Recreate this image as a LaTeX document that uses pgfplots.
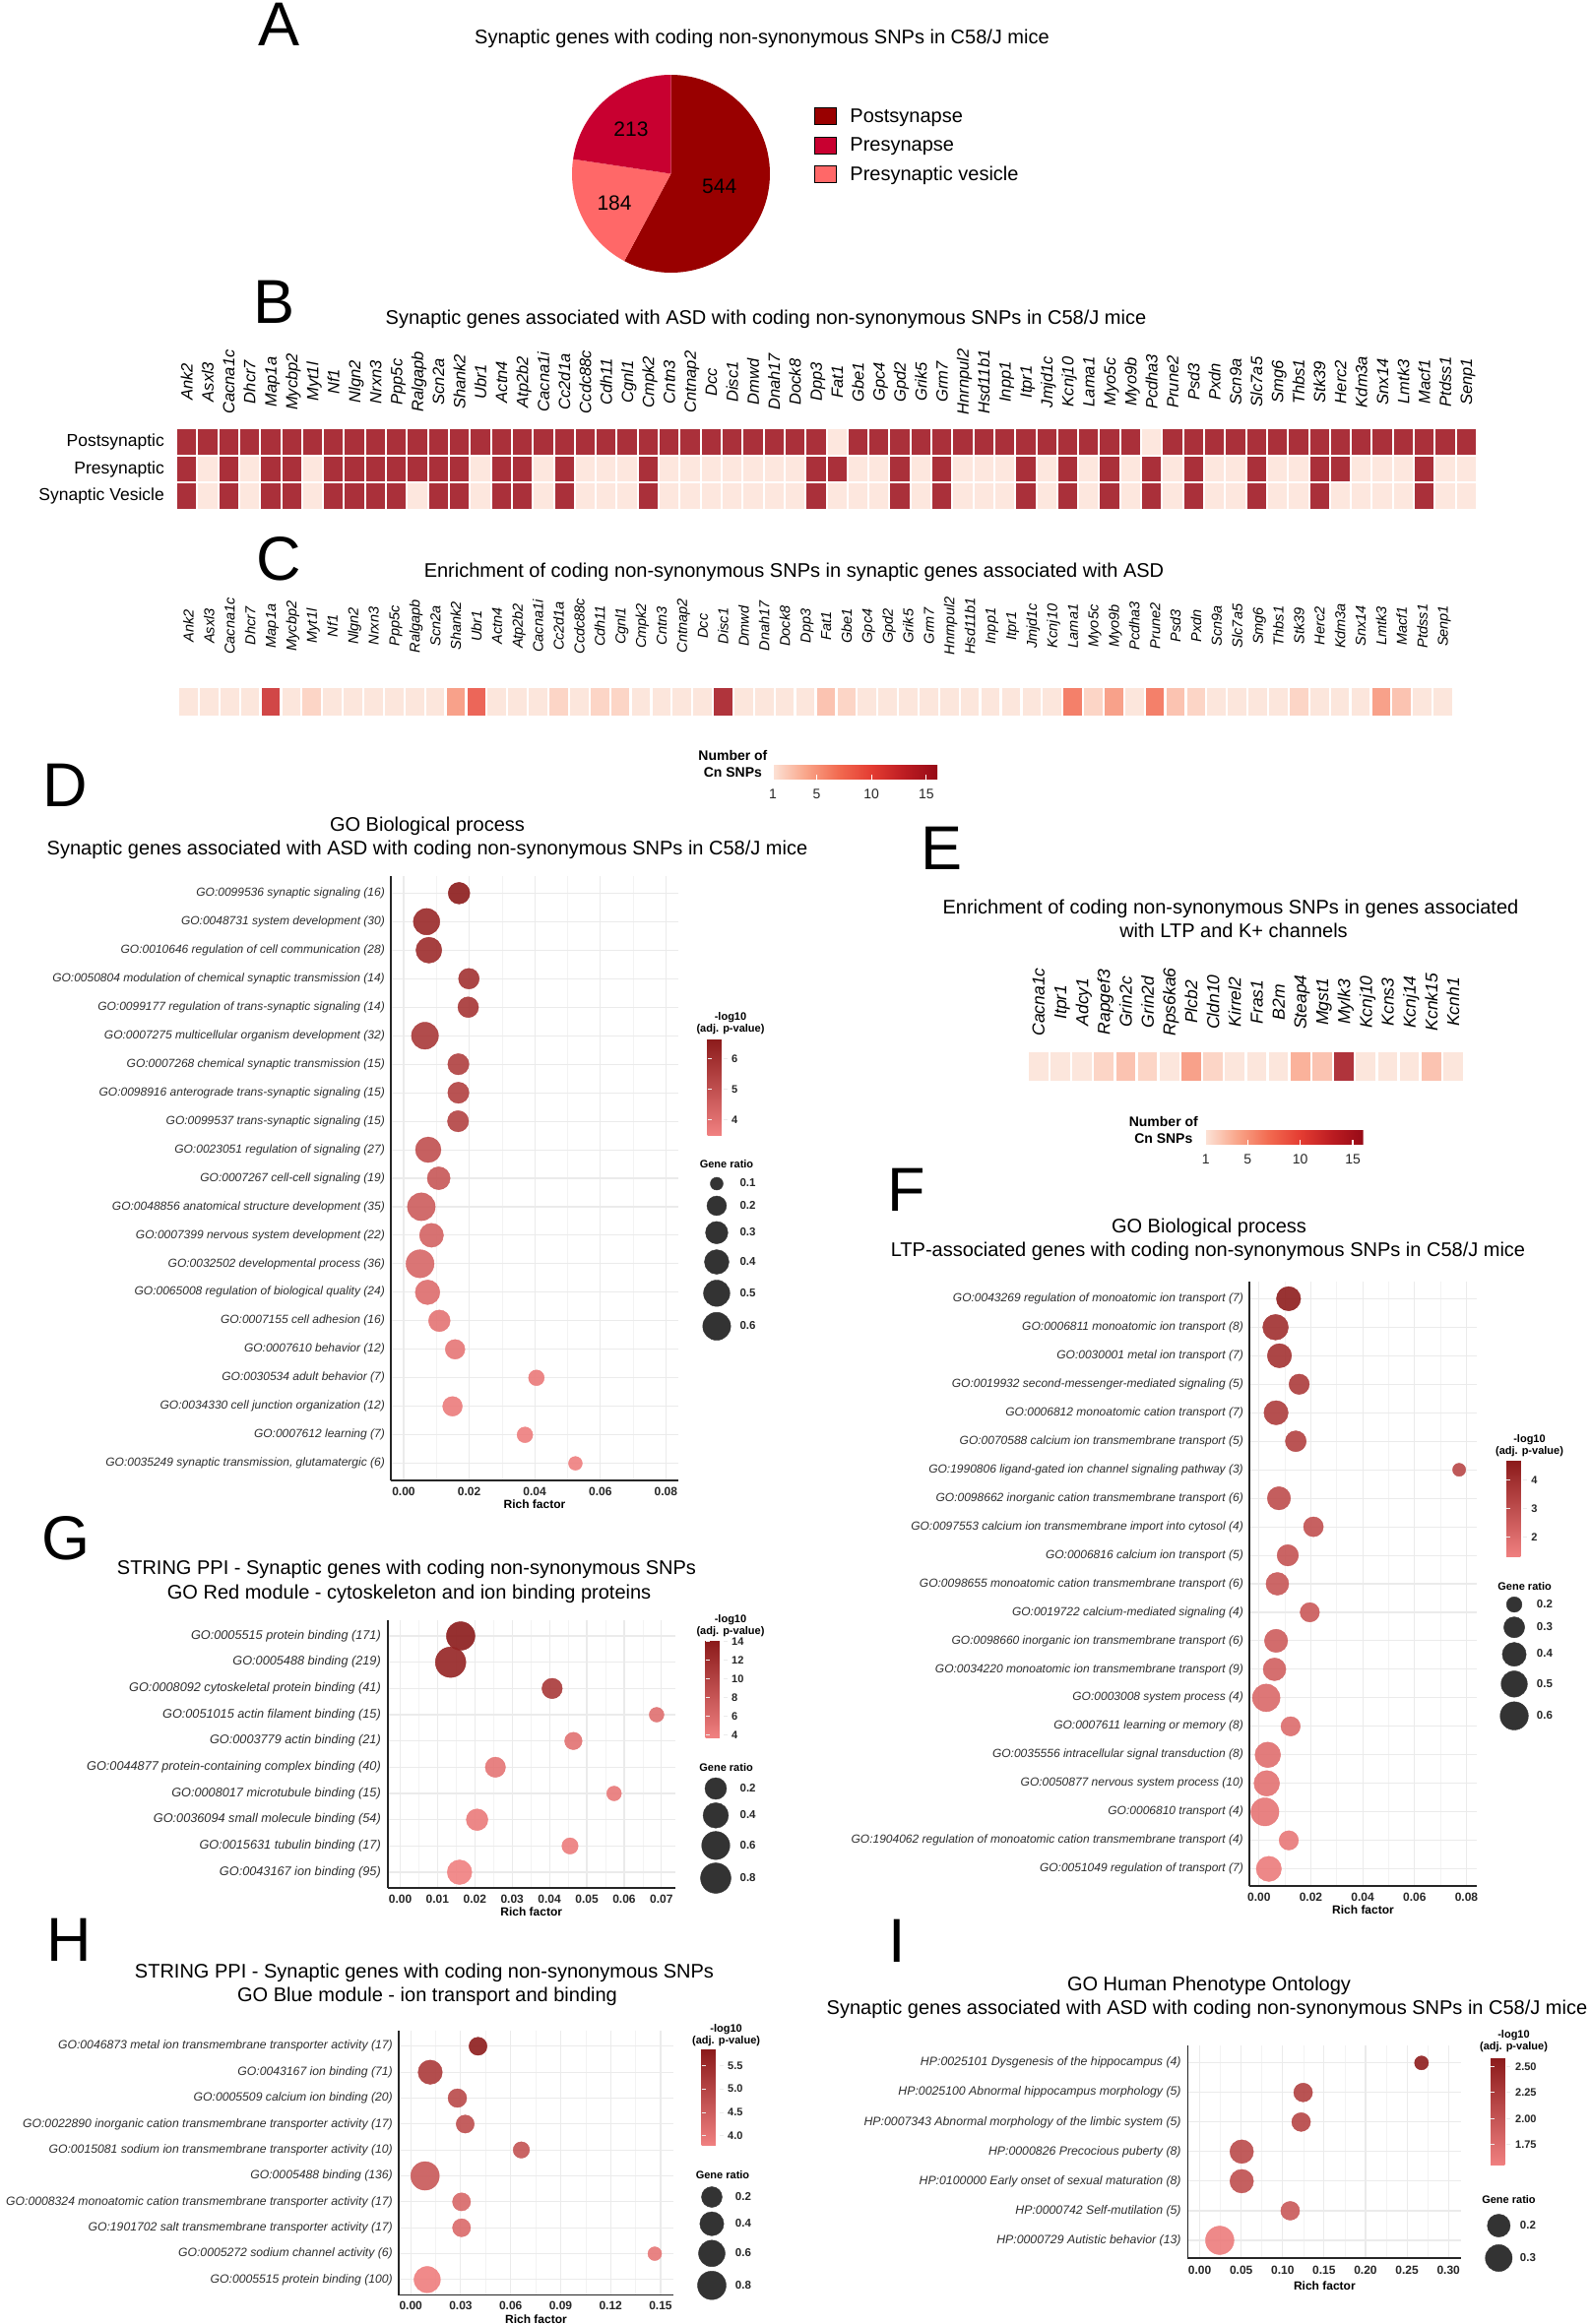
\documentclass[border=0pt]{standalone}
\usepackage{fontspec}
\setmainfont{Liberation Sans}
\usepackage{pgfplots}
\usepackage{pgfplotstable}
\pgfplotsset{compat=1.18}

\newcommand{\fs}[2]{\fontsize{#1}{#2}\selectfont}

\definecolor{postc}{RGB}{153,0,0}
\definecolor{prec}{RGB}{200,0,48}
\definecolor{vesc}{RGB}{255,104,104}
\definecolor{gridc}{RGB}{235,235,235}
\definecolor{labc}{RGB}{45,45,45}

\pgfplotsset{
  colormap={bin}{rgb255=(253,231,222) rgb255=(170,48,58)},
  colormap={reds}{rgb255=(252,226,214) rgb255=(249,165,137) rgb255=(242,106,80)
                  rgb255=(228,60,50) rgb255=(188,28,34) rgb255=(150,10,22)},
  colormap={lcfb}{rgb255=(240,128,128) rgb255=(139,26,26)},
}

% point diameter (pt) from gene ratio, one scale per panel
\pgfmathdeclarefunction{szD}{1}{\pgfmathparse{(13+15.5*sqrt(max(#1-0.1,0)/0.51))/2}}
\pgfmathdeclarefunction{szF}{1}{\pgfmathparse{(13.3+15.7*sqrt(max(#1-0.19,0)/0.43))/2}}
\pgfmathdeclarefunction{szG}{1}{\pgfmathparse{(15+16*sqrt(max(#1-0.056,0)/0.755))/2}}
\pgfmathdeclarefunction{szH}{1}{\pgfmathparse{(14+15*sqrt(max(#1-0.035,0)/0.765))/2}}
\pgfmathdeclarefunction{szI}{1}{\pgfmathparse{(14.2+14.7*sqrt(max(#1-0.108,0)/0.243))/2}}

% heatmap tiles
\pgfdeclareplotmark{cellB}{\pgfpathrectangle{\pgfpoint{-9.65pt}{-12.85pt}}{\pgfpoint{19.3pt}{25.7pt}}\pgfusepathqfill}
\pgfdeclareplotmark{cellC}{\pgfpathrectangle{\pgfpoint{-9.3pt}{-13.65pt}}{\pgfpoint{18.6pt}{27.3pt}}\pgfusepathqfill}
\pgfdeclareplotmark{cellE}{\pgfpathrectangle{\pgfpoint{-9.85pt}{-14.5pt}}{\pgfpoint{19.7pt}{29pt}}\pgfusepathqfill}

% B: membership of each gene (1 = yes)
\pgfplotstableread{
i post pre ves
0 1 1 1
1 1 0 0
2 1 1 1
3 1 0 0
4 1 1 1
5 1 1 1
6 1 0 0
7 1 1 1
8 1 1 1
9 1 1 1
10 1 1 1
11 1 1 0
12 1 1 1
13 1 1 1
14 1 0 0
15 1 1 1
16 1 1 1
17 1 0 0
18 1 1 1
19 1 0 0
20 1 0 0
21 1 0 0
22 1 1 1
23 1 0 0
24 1 0 0
25 1 0 0
26 1 0 0
27 1 0 0
28 1 0 0
29 1 0 0
30 1 1 1
31 0 1 0
32 1 0 0
33 1 0 0
34 1 1 1
35 1 0 0
36 1 1 1
37 1 0 0
38 1 0 0
39 1 0 0
40 1 1 1
41 1 0 0
42 1 1 1
43 1 0 0
44 1 1 1
45 1 0 0
46 0 1 1
47 1 0 0
48 1 1 1
49 1 0 0
50 1 0 0
51 1 1 1
52 1 0 0
53 1 0 0
54 1 1 1
55 1 1 0
56 1 0 0
57 1 0 0
58 1 0 0
59 1 1 1
60 1 0 0
61 1 0 0
}\tabB

% C: number of Cn SNPs per gene
\pgfplotstableread{
i n
0 1
1 1
2 1
3 1
4 12
5 1
6 2
7 1
8 1
9 1
10 1
11 1
12 1
13 5
14 9
15 1
16 1
17 1
18 2
19 1
20 2
21 2
22 1
23 1
24 1
25 1
26 15
27 1
28 1
29 1
30 1
31 3
32 2
33 1
34 1
35 1
36 1
37 1
38 1
39 1
40 1
41 1
42 1
43 7
44 2
45 5
46 1
47 7
48 3
49 2
50 1
51 1
52 1
53 1
54 2
55 1
56 1
57 1
58 5
59 3
60 1
61 1
}\tabC

% E: number of Cn SNPs, LTP and K+ channel genes
\pgfplotstableread{
i n
0 1
1 1
2 1
3 2
4 3
5 2
6 1
7 5
8 2
9 1
10 1
11 1
12 4
13 3
14 15
15 1
16 1
17 1
18 3
19 1
}\tabE

\pgfplotstableread{
y rf gr lp
21 0.0169 0.271 6.60
20 0.0070 0.508 6.20
19 0.0077 0.475 6.10
18 0.0199 0.237 5.90
17 0.0197 0.237 5.80
16 0.0065 0.542 5.70
15 0.0167 0.254 5.50
14 0.0167 0.254 5.45
13 0.0166 0.254 5.40
12 0.0075 0.458 5.00
11 0.0107 0.322 4.80
10 0.0054 0.593 4.60
9 0.0085 0.373 4.40
8 0.0050 0.610 4.30
7 0.0073 0.407 4.10
6 0.0109 0.271 3.90
5 0.0157 0.203 3.80
4 0.0405 0.119 3.70
3 0.0149 0.203 3.65
2 0.0370 0.119 3.60
1 0.0524 0.102 3.55
}\tabD

\pgfplotstableread{
y rf gr lp
21 0.0114 0.413 4.60
20 0.0064 0.471 4.00
19 0.0079 0.413 3.90
18 0.0155 0.285 3.60
17 0.0066 0.413 3.55
16 0.0142 0.299 3.40
15 0.0772 0.190 3.20
14 0.0077 0.375 3.00
13 0.0210 0.273 2.90
12 0.0111 0.313 2.80
11 0.0071 0.358 2.70
10 0.0196 0.261 2.60
9 0.0066 0.375 2.50
8 0.0060 0.358 2.40
7 0.0028 0.567 2.10
6 0.0122 0.261 2.00
5 0.0034 0.471 1.90
4 0.0030 0.471 1.80
3 0.0023 0.593 1.70
2 0.0115 0.261 1.60
1 0.0038 0.454 1.50
}\tabF

\pgfplotstableread{
y rf gr lp
10 0.0162 0.633 14.0
9 0.0135 0.811 13.0
8 0.0407 0.152 11.0
7 0.0687 0.056 5.5
6 0.0464 0.078 5.3
5 0.0255 0.148 5.0
4 0.0573 0.056 4.6
3 0.0206 0.200 4.4
2 0.0455 0.063 4.2
1 0.0159 0.352 3.9
}\tabG

\pgfplotstableread{
y rf gr lp
10 0.0404 0.100 5.80
9 0.0117 0.418 5.20
8 0.0280 0.118 4.90
7 0.0327 0.100 4.80
6 0.0664 0.059 4.70
5 0.0086 0.800 4.60
4 0.0305 0.100 4.30
3 0.0305 0.100 4.25
2 0.1465 0.035 4.00
1 0.0099 0.588 3.85
}\tabH

\pgfplotstableread{
y rf gr lp
7 0.2675 0.108 2.55
6 0.1247 0.135 2.20
5 0.1223 0.135 2.15
4 0.0506 0.216 2.10
3 0.0506 0.216 2.05
2 0.1091 0.135 1.95
1 0.0241 0.351 1.60
}\tabI

\pgfplotsset{
  asdgenes/.style={xtick={0,...,61},
    xticklabels={Ank2,Asxl3,Cacna1c,Dhcr7,Map1a,Mycbp2,Myt1l,Nf1,Nlgn2,Nrxn3,Ppp5c,Ralgapb,Scn2a,Shank2,Ubr1,Actn4,Atp2b2,Cacna1i,Cc2d1a,Ccdc88c,Cdh11,Cgnl1,Cmpk2,Cntn3,Cntnap2,Dcc,Disc1,Dmwd,Dnah17,Dock8,Dpp3,Fat1,Gbe1,Gpc4,Gpd2,Grik5,Grm7,Hnrnpul2,Hsd11b1,Inpp1,Itpr1,Jmjd1c,Kcnj10,Lama1,Myo5c,Myo9b,Pcdha3,Prune2,Psd3,Pxdn,Scn9a,Slc7a5,Smg6,Thbs1,Stk39,Herc2,Kdm3a,Snx14,Lmtk3,Macf1,Ptdss1,Senp1}},
  heat/.style={scale only axis, clip=false, axis line style={draw=none},
    tick style={draw=none}, major tick length=0pt,
    xticklabel pos=upper,
    xticklabel style={rotate=90, anchor=center, inner sep=0pt, text depth=0pt}},
  hcbar/.style={at={(parent axis.center)}, anchor=center, scale only axis,
    axis line style={draw=none}, xtick={1,5,10,15}, tick pos=both, tick align=inside,
    major tick length=5pt, tick style={white, line width=1.2pt}, xticklabel pos=lower,
    xticklabel style={font=\fs{14}{14}, text=black!85, anchor=center, yshift=-15pt,
      /pgf/number format/assume math mode=true}},
  vcbar/.style={at={(parent axis.center)}, anchor=center, scale only axis,
    axis line style={draw=none}, tick pos=both, yticklabel pos=right, tick align=inside,
    major tick length=4pt, tick style={white!92!black, line width=1pt}, scaled y ticks=false,
    yticklabel style={font=\bfseries\fs{11}{11}, text=black!85, anchor=west, inner sep=0pt,
      xshift=4.5pt, /pgf/number format/assume math mode=true}},
  dotplot/.style={scale only axis, clip=false,
    axis x line*=bottom, axis y line*=left,
    axis line style={black!85, line width=1.1pt},
    major tick length=0pt, minor tick length=0pt,
    xmajorgrids, xminorgrids, ymajorgrids,
    major grid style={gridc, line width=1.1pt},
    minor grid style={gridc!60!white, line width=0.6pt},
    scaled x ticks=false,
    xticklabel style={font=\bfseries\fs{12}{12}, text=black!85, anchor=center, yshift=-11pt,
      /pgf/number format/fixed, /pgf/number format/fixed zerofill,
      /pgf/number format/precision=2, /pgf/number format/assume math mode=true},
    yticklabel style={font=\itshape\fs{12}{12}, text=labc, anchor=east, inner sep=0pt, xshift=-6pt},
    xlabel={Rich factor},
    xlabel style={font=\bfseries\fs{12}{12}, at={(axis description cs:0.5,0)}, anchor=center, yshift=-24pt},
    colormap name=lcfb, colorbar,
    legend style={draw=none, fill=none, inner sep=0pt, outer sep=0pt, anchor=north west,
      font=\bfseries\fs{11.5}{12}, nodes={inner sep=0pt, text=black!85}},
    legend cell align=left,
    legend image code/.code={\draw[##1] plot coordinates {(0pt,0pt)};}},
  dots/.style={scatter, only marks, mark=*, point meta=explicit, opacity=0.9, forget plot,
    scatter/use mapped color={draw=mapped color, fill=mapped color},
    visualization depends on={\thisrow{gr} \as \grv},
    scatter/@pre marker code/.append style={/tikz/mark size={#1(\grv)}}},
  key/.style={only marks, mark=*, black!80, mark size={#1}},
}

\tikzset{
  ttl/.style={font=\fs{20}{20}, inner sep=0pt, anchor=base},
  cbt/.style={font=\bfseries\fs{11}{12}, inner sep=0pt, align=center, anchor=center},
  grt/.style={font=\bfseries\fs{11}{11}, inner sep=0pt, anchor=center},
}

\begin{document}
\begin{tikzpicture}
\useasboundingbox (0pt,0pt) rectangle (1615pt,-2361pt);

\foreach \L/\x/\y in {A/284/46, B/279/328, C/283/589, D/66/819, E/956/883, F/921/1230, G/67/1584, H/70/1992, I/911/1993}
  \node[anchor=base, inner sep=0pt, font=\fs{63}{63}] at ({\x*1pt},{-\y*1pt}) {\L};

% ---------------- A: pie
\node[ttl] at (774pt,-44.5pt) {Synaptic genes with coding non-synonymous SNPs in C58/J mice};
\pgfmathsetmacro{\tot}{544+213+184}
\pgfmathsetmacro{\aP}{90-544/\tot*360}
\pgfmathsetmacro{\aV}{\aP-184/\tot*360}
\begin{axis}[at={(681.5pt,-176.5pt)}, anchor=center, scale only axis, width=201pt, height=201pt,
  xmin=-1, xmax=1, ymin=-1, ymax=1, hide axis, clip=false,
  legend style={at={(axis description cs:1.2239,0.834)}, anchor=north west, draw=none, fill=none,
    inner sep=0pt, outer sep=0pt, row sep=12pt, column sep=14pt, font=\fs{20}{20}, nodes={inner sep=0pt}},
  legend cell align=left,
  legend image code/.code={\fill[#1] (0pt,-8.5pt) rectangle (22pt,8.5pt);}]
\addplot[fill=postc, draw=none, domain=\aP:90, samples=90, forget plot] ({cos(x)},{sin(x)}) -- (0,0) -- cycle;
\addplot[fill=vesc, draw=none, domain=\aV:\aP, samples=40, forget plot] ({cos(x)},{sin(x)}) -- (0,0) -- cycle;
\addplot[fill=prec, draw=none, domain=-270:\aV, samples=45, forget plot] ({cos(x)},{sin(x)}) -- (0,0) -- cycle;
\node[font=\fs{21}{21}] at (axis cs:0.49,-0.124) {544};
\node[font=\fs{21}{21}] at (axis cs:-0.403,0.453) {213};
\node[font=\fs{21}{21}] at (axis cs:-0.572,-0.294) {184};
\addlegendimage{fill=postc}\addlegendentry{Postsynapse}
\addlegendimage{fill=prec}\addlegendentry{Presynapse}
\addlegendimage{fill=vesc}\addlegendentry{Presynaptic vesicle}
\end{axis}

% ---------------- B: membership heatmap
\node[ttl] at (778pt,-329pt) {Synaptic genes associated with ASD with coding non-synonymous SNPs in C58/J mice};
\begin{axis}[heat, asdgenes, at={(839.5pt,-476.5pt)}, anchor=center, width=1321pt, height=83pt,
  xmin=-0.5, xmax=61.5, ymin=-0.5, ymax=2.5,
  xticklabel style={font=\itshape\fs{16.5}{16.5}, text height=11.8pt}, xticklabel shift=47pt,
  ytick={0,1,2}, yticklabels={Synaptic Vesicle,Presynaptic,Postsynaptic},
  yticklabel style={anchor=east, inner sep=0pt, xshift=-12pt, font=\fs{17.5}{18}},
  colormap name=bin, point meta min=0, point meta max=1]
\addplot[scatter, only marks, mark=cellB, point meta=explicit, scatter/use mapped color={fill=mapped color}]
  table[x=i, y expr=2, meta=post] {\tabB};
\addplot[scatter, only marks, mark=cellB, point meta=explicit, scatter/use mapped color={fill=mapped color}]
  table[x=i, y expr=1, meta=pre] {\tabB};
\addplot[scatter, only marks, mark=cellB, point meta=explicit, scatter/use mapped color={fill=mapped color}]
  table[x=i, y expr=0, meta=ves] {\tabB};
\end{axis}

% ---------------- C: SNP count heatmap
\node[ttl] at (806.5pt,-586pt) {Enrichment of coding non-synonymous SNPs in synaptic genes associated with ASD};
\begin{axis}[heat, asdgenes, at={(828.5pt,-713pt)}, anchor=center, width=1295pt, height=28pt,
  xmin=-0.5, xmax=61.5, ymin=-0.5, ymax=0.5, ytick=\empty,
  xticklabel style={font=\itshape\fs{14.5}{14.5}, text height=10.4pt}, xticklabel shift=63pt,
  colormap name=reds, point meta min=1, point meta max=16,
  colorbar horizontal,
  colorbar style={hcbar, xshift=40pt, yshift=-58pt, width=167pt, height=24pt}]
\addplot[scatter, only marks, mark=cellC, point meta=explicit, fill opacity=0.85,
  scatter/use mapped color={fill=mapped color}] table[x=i, y expr=0, meta=n] {\tabC};
\end{axis}
\node[anchor=east, align=center, font=\bfseries\fs{14}{17}, inner sep=0pt] at (779.6pt,-775.5pt) {Number of\\Cn SNPs};

% ---------------- E: LTP / K+ channel heatmap
\node[ttl] at (1250pt,-928pt) {Enrichment of coding non-synonymous SNPs  in genes associated};
\node[ttl] at (1253pt,-952pt) {with LTP and K+ channels};
\begin{axis}[heat, at={(1265.3pt,-1083pt)}, anchor=center, width=443.4pt, height=30pt,
  xmin=-0.5, xmax=19.5, ymin=-0.5, ymax=0.5, ytick=\empty,
  xtick={0,...,19},
  xticklabels={Cacna1c,Itpr1,Adcy1,Rapgef3,Grin2c,Grin2d,Rps6ka6,Plcb2,Cldn10,Kirrel2,Fras1,B2m,Steap4,Mgst1,Mylk3,Kcnj10,Kcns3,Kcnj14,Kcnk15,Kcnh1},
  xticklabel style={font=\itshape\fs{17.5}{17.5}, text height=12.5pt},
  xticklabel shift=50pt,
  colormap name=reds, point meta min=1, point meta max=16,
  colorbar horizontal,
  colorbar style={hcbar, xshift=39.4pt, yshift=-59pt, width=160pt, height=24pt}]
\addplot[scatter, only marks, mark=cellE, point meta=explicit, fill opacity=0.85,
  scatter/use mapped color={fill=mapped color}] table[x=i, y expr=0, meta=n] {\tabE};
\end{axis}
\node[anchor=east, align=center, font=\bfseries\fs{14}{17}, inner sep=0pt] at (1217pt,-1148pt) {Number of\\Cn SNPs};

% ---------------- D: GO biological process, ASD synaptic genes
\node[ttl] at (434pt,-844pt) {GO Biological process};
\node[ttl] at (434pt,-868pt) {Synaptic genes associated with ASD  with coding non-synonymous SNPs in C58/J mice};
\begin{axis}[dotplot, at={(543pt,-1197pt)}, anchor=center, width=292pt, height=614pt,
  xmin=-0.0039, xmax=0.0838, ymin=0.4, ymax=21.6,
  xtick={0,0.02,0.04,0.06,0.08}, minor xtick={0.01,0.03,0.05,0.07},
  ytick={1,...,21},
  yticklabels={{GO:0035249 synaptic transmission, glutamatergic (6)},
    {GO:0007612 learning (7)},
    {GO:0034330 cell junction organization (12)},
    {GO:0030534 adult behavior (7)},
    {GO:0007610 behavior (12)},
    {GO:0007155 cell adhesion (16)},
    {GO:0065008 regulation of biological quality (24)},
    {GO:0032502 developmental process (36)},
    {GO:0007399 nervous system development (22)},
    {GO:0048856 anatomical structure development (35)},
    {GO:0007267 cell-cell signaling (19)},
    {GO:0023051 regulation of signaling (27)},
    {GO:0099537 trans-synaptic signaling (15)},
    {GO:0098916 anterograde trans-synaptic signaling (15)},
    {GO:0007268 chemical synaptic transmission (15)},
    {GO:0007275 multicellular organism development (32)},
    {GO:0099177 regulation of trans-synaptic signaling (14)},
    {GO:0050804 modulation of chemical synaptic transmission (14)},
    {GO:0010646 regulation of cell communication (28)},
    {GO:0048731 system development (30)},
    {GO:0099536 synaptic signaling (16)}},
  point meta min=3.5, point meta max=6.65,
  colorbar style={vcbar, xshift=177pt, yshift=93pt, width=20pt, height=98pt, ytick={4,5,6}},
  legend style={at={(axis description cs:1.0849,0.5016)}, row sep=6pt, column sep=9.4pt}]
\addplot[dots=szD] table[x=rf, y=y, meta=lp] {\tabD};
\addlegendimage{key=szD(0.1)}\addlegendentry{0.1}
\addlegendimage{key=szD(0.2)}\addlegendentry{0.2}
\addlegendimage{key=szD(0.3)}\addlegendentry{0.3}
\addlegendimage{key=szD(0.4)}\addlegendentry{0.4}
\addlegendimage{key=szD(0.5)}\addlegendentry{0.5}
\addlegendimage{key=szD(0.6)}\addlegendentry{0.6}
\end{axis}
\node[cbt] at (742pt,-1040pt) {-log10\\(adj. p-value)};
\node[grt] at (738pt,-1183pt) {Gene ratio};

% ---------------- F: GO biological process, LTP genes
\node[ttl] at (1228pt,-1252pt) {GO Biological process};
\node[ttl] at (1227pt,-1276pt) {LTP-associated genes with coding non-synonymous SNPs in C58/J mice};
\begin{axis}[dotplot, at={(1384.5pt,-1609pt)}, anchor=center, width=231pt, height=614pt,
  xmin=-0.0037, xmax=0.084, ymin=0.4, ymax=21.6,
  xtick={0,0.02,0.04,0.06,0.08}, minor xtick={0.01,0.03,0.05,0.07},
  ytick={1,...,21},
  yticklabels={{GO:0051049 regulation of transport (7)},
    {GO:1904062 regulation of monoatomic cation transmembrane transport (4)},
    {GO:0006810 transport (4)},
    {GO:0050877 nervous system process (10)},
    {GO:0035556 intracellular signal transduction (8)},
    {GO:0007611 learning or memory (8)},
    {GO:0003008 system process (4)},
    {GO:0034220 monoatomic ion transmembrane transport (9)},
    {GO:0098660 inorganic ion transmembrane transport (6)},
    {GO:0019722 calcium-mediated signaling (4)},
    {GO:0098655 monoatomic cation transmembrane transport (6)},
    {GO:0006816 calcium ion transport (5)},
    {GO:0097553 calcium ion transmembrane import into cytosol (4)},
    {GO:0098662 inorganic cation transmembrane transport (6)},
    {GO:1990806 ligand-gated ion channel signaling pathway (3)},
    {GO:0070588 calcium ion transmembrane transport (5)},
    {GO:0006812 monoatomic cation transport (7)},
    {GO:0019932 second-messenger-mediated signaling (5)},
    {GO:0030001 metal ion transport (7)},
    {GO:0006811 monoatomic ion transport (8)},
    {GO:0043269 regulation of monoatomic ion transport (7)}},
  point meta min=1.32, point meta max=4.71,
  colorbar style={vcbar, xshift=147.25pt, yshift=76.7pt, width=20.5pt, height=98.6pt, ytick={2,3,4}},
  legend style={at={(axis description cs:1.1026,0.4785)}, row sep=4.7pt, column sep=8.6pt}]
\addplot[dots=szF] table[x=rf, y=y, meta=lp] {\tabF};
\addlegendimage{key=szF(0.2)}\addlegendentry{0.2}
\addlegendimage{key=szF(0.3)}\addlegendentry{0.3}
\addlegendimage{key=szF(0.4)}\addlegendentry{0.4}
\addlegendimage{key=szF(0.5)}\addlegendentry{0.5}
\addlegendimage{key=szF(0.6)}\addlegendentry{0.6}
\end{axis}
\node[cbt] at (1553.5pt,-1468.5pt) {-log10\\(adj. p-value)};
\node[grt] at (1548.6pt,-1612pt) {Gene ratio};

% ---------------- G: STRING red module
\node[ttl] at (413pt,-1599pt) {STRING PPI - Synaptic genes with coding non-synonymous SNPs};
\node[ttl] at (415.6pt,-1624pt) {GO Red module - cytoskeleton and ion binding proteins};
\begin{axis}[dotplot, at={(539.75pt,-1782pt)}, anchor=center, width=291.5pt, height=272pt,
  xmin=-0.0033, xmax=0.0736, ymin=0.4, ymax=10.6,
  xtick={0,0.01,0.02,0.03,0.04,0.05,0.06,0.07},
  minor xtick={0.005,0.015,0.025,0.035,0.045,0.055,0.065},
  ytick={1,...,10},
  yticklabel style={font=\itshape\fs{12.7}{13}, xshift=-1pt},
  yticklabels={{GO:0043167 ion binding (95)},
    {GO:0015631 tubulin binding (17)},
    {GO:0036094 small molecule binding (54)},
    {GO:0008017 microtubule binding (15)},
    {GO:0044877 protein-containing complex binding (40)},
    {GO:0003779 actin binding (21)},
    {GO:0051015 actin filament binding (15)},
    {GO:0008092 cytoskeletal protein binding (41)},
    {GO:0005488 binding (219)},
    {GO:0005515 protein binding (171)}},
  point meta min=3.75, point meta max=14.1,
  colorbar style={vcbar, xshift=179.25pt, yshift=66.15pt, width=22pt, height=98.3pt, ytick={4,6,8,10,12,14}},
  legend style={at={(axis description cs:1.0894,0.4118)}, row sep=3.4pt, column sep=9.2pt}]
\addplot[dots=szG] table[x=rf, y=y, meta=lp] {\tabG};
\addlegendimage{key=szG(0.2)}\addlegendentry{0.2}
\addlegendimage{key=szG(0.4)}\addlegendentry{0.4}
\addlegendimage{key=szG(0.6)}\addlegendentry{0.6}
\addlegendimage{key=szG(0.8)}\addlegendentry{0.8}
\end{axis}
\node[cbt] at (742pt,-1651.5pt) {-log10\\(adj. p-value)};
\node[grt] at (737.6pt,-1795.7pt) {Gene ratio};

% ---------------- H: STRING blue module
\node[ttl] at (431pt,-2009pt) {STRING PPI - Synaptic genes with coding non-synonymous SNPs};
\node[ttl] at (434pt,-2033pt) {GO Blue module - ion transport and binding};
\begin{axis}[dotplot, at={(544.5pt,-2197.35pt)}, anchor=center, width=279pt, height=268.7pt,
  xmin=-0.0072, xmax=0.1577, ymin=0.4, ymax=10.6,
  xtick={0,0.03,0.06,0.09,0.12,0.15},
  minor xtick={0.015,0.045,0.075,0.105,0.135},
  ytick={1,...,10},
  yticklabel style={font=\itshape\fs{12.2}{13}},
  yticklabels={{GO:0005515 protein binding (100)},
    {GO:0005272 sodium channel activity (6)},
    {GO:1901702 salt transmembrane transporter activity (17)},
    {GO:0008324 monoatomic cation transmembrane transporter activity (17)},
    {GO:0005488 binding (136)},
    {GO:0015081 sodium ion transmembrane transporter activity (10)},
    {GO:0022890 inorganic cation transmembrane transporter activity (17)},
    {GO:0005509 calcium ion binding (20)},
    {GO:0043167 ion binding (71)},
    {GO:0046873 metal ion transmembrane transporter activity (17)}},
  point meta min=3.8, point meta max=5.85,
  colorbar style={vcbar, xshift=170.5pt, yshift=66.85pt, width=22pt, height=97.6pt,
    ytick={4,4.5,5,5.5}, yticklabel style={/pgf/number format/fixed, /pgf/number format/fixed zerofill, /pgf/number format/precision=1}},
  legend style={at={(axis description cs:1.0878,0.4101)}, row sep=4.5pt, column sep=9.5pt}]
\addplot[dots=szH] table[x=rf, y=y, meta=lp] {\tabH};
\addlegendimage{key=szH(0.2)}\addlegendentry{0.2}
\addlegendimage{key=szH(0.4)}\addlegendentry{0.4}
\addlegendimage{key=szH(0.6)}\addlegendentry{0.6}
\addlegendimage{key=szH(0.8)}\addlegendentry{0.8}
\end{axis}
\node[cbt] at (737.6pt,-2067.5pt) {-log10\\(adj. p-value)};
\node[grt] at (734pt,-2210pt) {Gene ratio};

% ---------------- I: human phenotype ontology
\node[ttl] at (1228pt,-2022pt) {GO Human Phenotype Ontology};
\node[ttl] at (1226pt,-2046pt) {Synaptic genes associated with ASD with coding non-synonymous SNPs in C58/J mice};
\begin{axis}[dotplot, at={(1345.35pt,-2185.85pt)}, anchor=center, width=277.9pt, height=216.3pt,
  xmin=-0.0145, xmax=0.3156, ymin=0.4, ymax=7.6,
  xtick={0,0.05,0.1,0.15,0.2,0.25,0.3},
  minor xtick={0.025,0.075,0.125,0.175,0.225,0.275},
  ytick={1,...,7},
  yticklabel style={font=\itshape\fs{12.3}{13}, xshift=-0.6pt},
  yticklabels={{HP:0000729 Autistic behavior (13)},
    {HP:0000742 Self-mutilation (5)},
    {HP:0100000 Early onset of sexual maturation (8)},
    {HP:0000826 Precocious puberty (8)},
    {HP:0007343 Abnormal morphology of the limbic system (5)},
    {HP:0025100 Abnormal hippocampus morphology (5)},
    {HP:0025101 Dysgenesis of the hippocampus (4)}},
  xlabel style={yshift=-3.7pt},
  xticklabel style={yshift=-1.7pt},
  point meta min=1.555, point meta max=2.59,
  colorbar style={vcbar, xshift=170.4pt, yshift=41.2pt, width=20.3pt, height=109.3pt,
    ytick={1.75,2,2.25,2.5}, yticklabel style={/pgf/number format/fixed, /pgf/number format/fixed zerofill, /pgf/number format/precision=2}},
  legend style={at={(axis description cs:1.0877,0.2062)}, row sep=7.7pt, column sep=8pt}]
\addplot[dots=szI] table[x=rf, y=y, meta=lp] {\tabI};
\addlegendimage{key=szI(0.2)}\addlegendentry{0.2}
\addlegendimage{key=szI(0.3)}\addlegendentry{0.3}
\end{axis}
\node[cbt] at (1537.5pt,-2073.5pt) {-log10\\(adj. p-value)};
\node[grt] at (1532.5pt,-2235pt) {Gene ratio};

\end{tikzpicture}
\end{document}
